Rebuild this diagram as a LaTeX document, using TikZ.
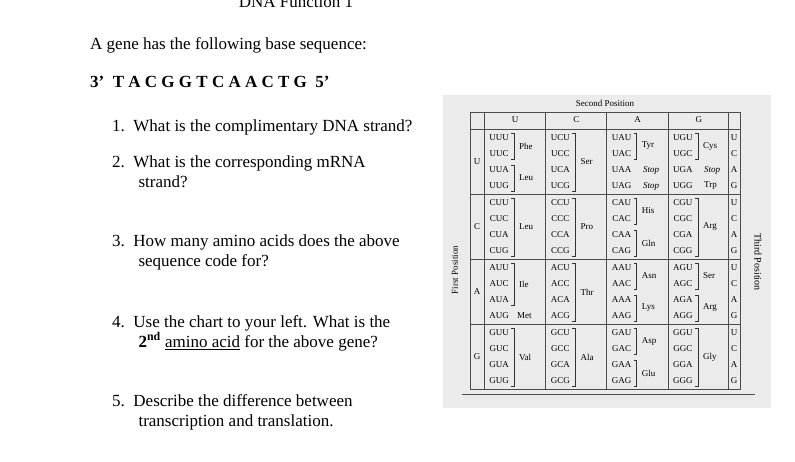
\documentclass[tikz,border=0pt]{standalone}
\usepackage{fontspec}
\setmainfont{Liberation Serif}
\begin{document}
\begin{tikzpicture}[x=1pt,y=-1pt,
  q/.style={anchor=west,font=\fontsize{17}{20}\selectfont,align=left,inner sep=0pt},
  cod/.style={font=\fontsize{9}{9}\selectfont,inner sep=0pt},
  lab/.style={font=\fontsize{9}{9}\selectfont,inner sep=0pt,anchor=west},
  tl/.style={draw=black!70,line width=0.7pt}]
\useasboundingbox (0,0) rectangle (795,462);
\node[q,anchor=base] (title) at (296,8) {DNA Function 1};
\node[q] (intro) at (90,45) {A gene has the following base sequence:};
\node[q,font=\fontsize{17}{20}\bfseries\selectfont] (seq) at (90,82) {3’\ \ T A C G G T C A A C T G\ \ 5’};
\node[q] (q1) at (112,127) {1.\ \ What is the complimentary DNA strand?};
\node[q,anchor=north west] (q2) at (112,156) {2.\ \ What is the corresponding mRNA\\\hspace*{1.55em}strand?};
\node[q,anchor=north west] (q3) at (112,235) {3.\ \ How many amino acids does the above\\\hspace*{1.55em}sequence code for?};
\node[q,anchor=north west] (q4) at (112,315) {4.\ \ Use the chart to your left. What is the\\\hspace*{1.55em}\textbf{2\textsuperscript{nd}} \underline{amino acid} for the above gene?};
\node[q,anchor=north west] (q5) at (112,394) {5.\ \ Describe the difference between\\\hspace*{1.55em}transcription and translation.};
% chart
\fill[black!8] (443,95) rectangle (771,408);
\draw[tl] (470,112) rectangle (740,389);
\draw[tl] (470,129) -- (740,129);
\foreach \yy in {194,259,324} \draw[tl] (470,\yy) -- (740,\yy);
\foreach \xx in {484,545,606,668,728} \draw[tl] (\xx,112) -- (\xx,389);
\draw[tl] (462,394) -- (755,394);
\node[cod] (sp) at (605,103) {Second Position};
\node[cod,rotate=90] (fp) at (455,270) {First Position};
\node[cod,font=\fontsize{10}{10}\selectfont,rotate=-90] (tp) at (758,262) {Third Position};
\foreach \c/\s in {0/U,1/C,2/A,3/G}{
  \node[cod] (h\c) at (515+61.3*\c,120) {\s};
  \node[cod] (f\c) at (477,162+65*\c) {\s};
  \foreach \k/\t in {0/U,1/C,2/A,3/G}{
    \node[cod] (t\c\k) at (734,138+65*\c+16*\k) {\t};
  }
}
\foreach \r/\f in {0/U,1/C,2/A,3/G}{
  \foreach \c/\s in {0/U,1/C,2/A,3/G}{
    \foreach \k/\t in {0/U,1/C,2/A,3/G}{
      \node[cod] at (499+61.3*\c,138+65*\r+16*\k) {\f\s\t};
    }
  }
}
\foreach \c/\r/\a/\b/\l in {0/0/0/1/Phe,0/0/2/3/Leu,1/0/0/3/Ser,2/0/0/1/Tyr,3/0/0/1/Cys,
  0/1/0/3/Leu,1/1/0/3/Pro,2/1/0/1/His,2/1/2/3/Gln,3/1/0/3/Arg,
  0/2/0/2/Ile,1/2/0/3/Thr,2/2/0/1/Asn,2/2/2/3/Lys,3/2/0/1/Ser,3/2/2/3/Arg,
  0/3/0/3/Val,1/3/0/3/Ala,2/3/0/1/Asp,2/3/2/3/Glu,3/3/0/3/Gly}{
  \draw[black!80,line width=0.5pt] (511+61.3*\c,133+65*\r+16*\a) -- ++(3,0) |- (511+61.3*\c,143+65*\r+16*\b);
  \node[lab] at (519+61.3*\c,138+65*\r+8*\a+8*\b) {\l};
}
\node[lab] (s1) at (643,170) {\textit{Stop}};
\node[lab] (s2) at (643,186) {\textit{Stop}};
\node[lab] (s3) at (704,170) {\textit{Stop}};
\node[lab] (trp) at (704,186) {Trp};
\node[lab] (met) at (517,316) {Met};
\end{tikzpicture}
\end{document}
